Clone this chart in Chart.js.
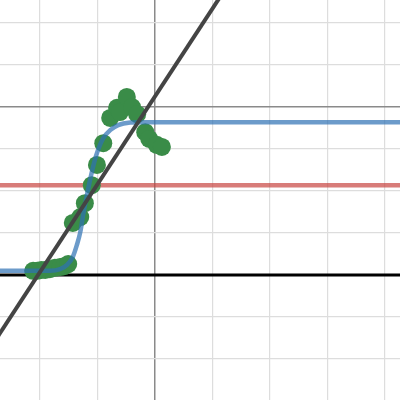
<!DOCTYPE html>
<html>
<head>
<meta charset="utf-8">
<script src="https://cdn.jsdelivr.net/npm/chart.js@4/dist/chart.umd.min.js"></script>
<style>
  html, body { margin: 0; padding: 0; background: #fff; }
  #wrap { width: 400px; height: 400px; }
</style>
</head>
<body>
<div id="wrap"><canvas id="graph" width="400" height="400"></canvas></div>
<script>
// measured samples (green dots)
const sampleX = [-2.12, -2.05, -1.98, -1.91, -1.83, -1.74, -1.65, -1.58, -1.51,
                 -1.43, -1.30, -1.22, -1.10, -1.01, -0.90, -0.78, -0.66, -0.61,
                 -0.49, -0.40, -0.31, -0.17, -0.10, 0.03, 0.12];
const sampleY = [-3.90, -3.90, -3.88, -3.88, -3.86, -3.83, -3.81, -3.79, -3.74,
                 -2.76, -2.62, -2.29, -1.86, -1.38, -0.86, -0.26, -0.02, -0.12,
                 0.24, 0.00, -0.17, -0.60, -0.76, -0.90, -0.95];

// fitted S-curve (blue)
const fitX = [-3.0, -1.83, -1.65, -1.53, -1.43, -1.36, -1.30, -1.25, -1.20, -1.13,
              -1.06, -0.99, -0.90, -0.78, -0.64, -0.43, -0.17, 5.0];
const fitY = [-3.90, -3.90, -3.86, -3.76, -3.57, -3.29, -2.98, -2.57, -2.21, -1.74,
              -1.33, -1.02, -0.74, -0.55, -0.43, -0.37, -0.36, -0.36];

// straight line (dark grey)
const trendX = [-3.0, 1.5];
const trendY = [-6.02, 3.39];

// horizontal reference lines
const floorX = [-3, 5];
const floorY = [-4, -4];
const midX = [-3, 5];
const midY = [-1.86, -1.86];

const toPts = (xs, ys) => xs.map((x, i) => ({ x: x, y: ys[i] }));

const lineSet = (xs, ys, color, width, order) => ({
    data: toPts(xs, ys),
    showLine: true,
    borderColor: color,
    borderWidth: width,
    pointRadius: 0,
    pointHoverRadius: 0,
    fill: false,
    order: order
});

const gridColor = ctx => ctx.tick && ctx.tick.value === 0 ? '#8a8a8a' : '#dddddd';
const gridWidth = ctx => ctx.tick && ctx.tick.value === 0 ? 1.5 : 1.2;

new Chart(document.getElementById('graph'), {
    type: 'scatter',
    data: {
        datasets: [
            lineSet(trendX, trendY, '#444444', 4, 0),
            { ...lineSet(fitX, fitY, 'rgba(45,112,179,0.7)', 4.5, 1), cubicInterpolationMode: 'monotone' },
            {
                data: toPts(sampleX, sampleY),
                backgroundColor: '#3a8c48',
                borderWidth: 0,
                pointRadius: 9,
                pointHoverRadius: 9,
                order: 2
            },
            lineSet(floorX, floorY, '#000000', 3, 3),
            lineSet(midX, midY, 'rgba(199,68,64,0.7)', 4.5, 4)
        ]
    },
    options: {
        responsive: false,
        animation: false,
        layout: { padding: 0, autoPadding: false },
        plugins: { legend: { display: false }, tooltip: { enabled: false } },
        scales: {
            x: {
                type: 'linear',
                min: -2.696,
                max: 4.261,
                afterFit: s => { s.height = 0; },
                ticks: { display: false, stepSize: 1, includeBounds: false },
                grid: { color: gridColor, lineWidth: gridWidth, drawTicks: false },
                border: { display: false }
            },
            y: {
                type: 'linear',
                min: -6.976,
                max: 2.548,
                afterFit: s => { s.width = 0; },
                ticks: { display: false, stepSize: 1, includeBounds: false },
                grid: { color: gridColor, lineWidth: gridWidth, drawTicks: false },
                border: { display: false }
            }
        }
    }
});
</script>
</body>
</html>
